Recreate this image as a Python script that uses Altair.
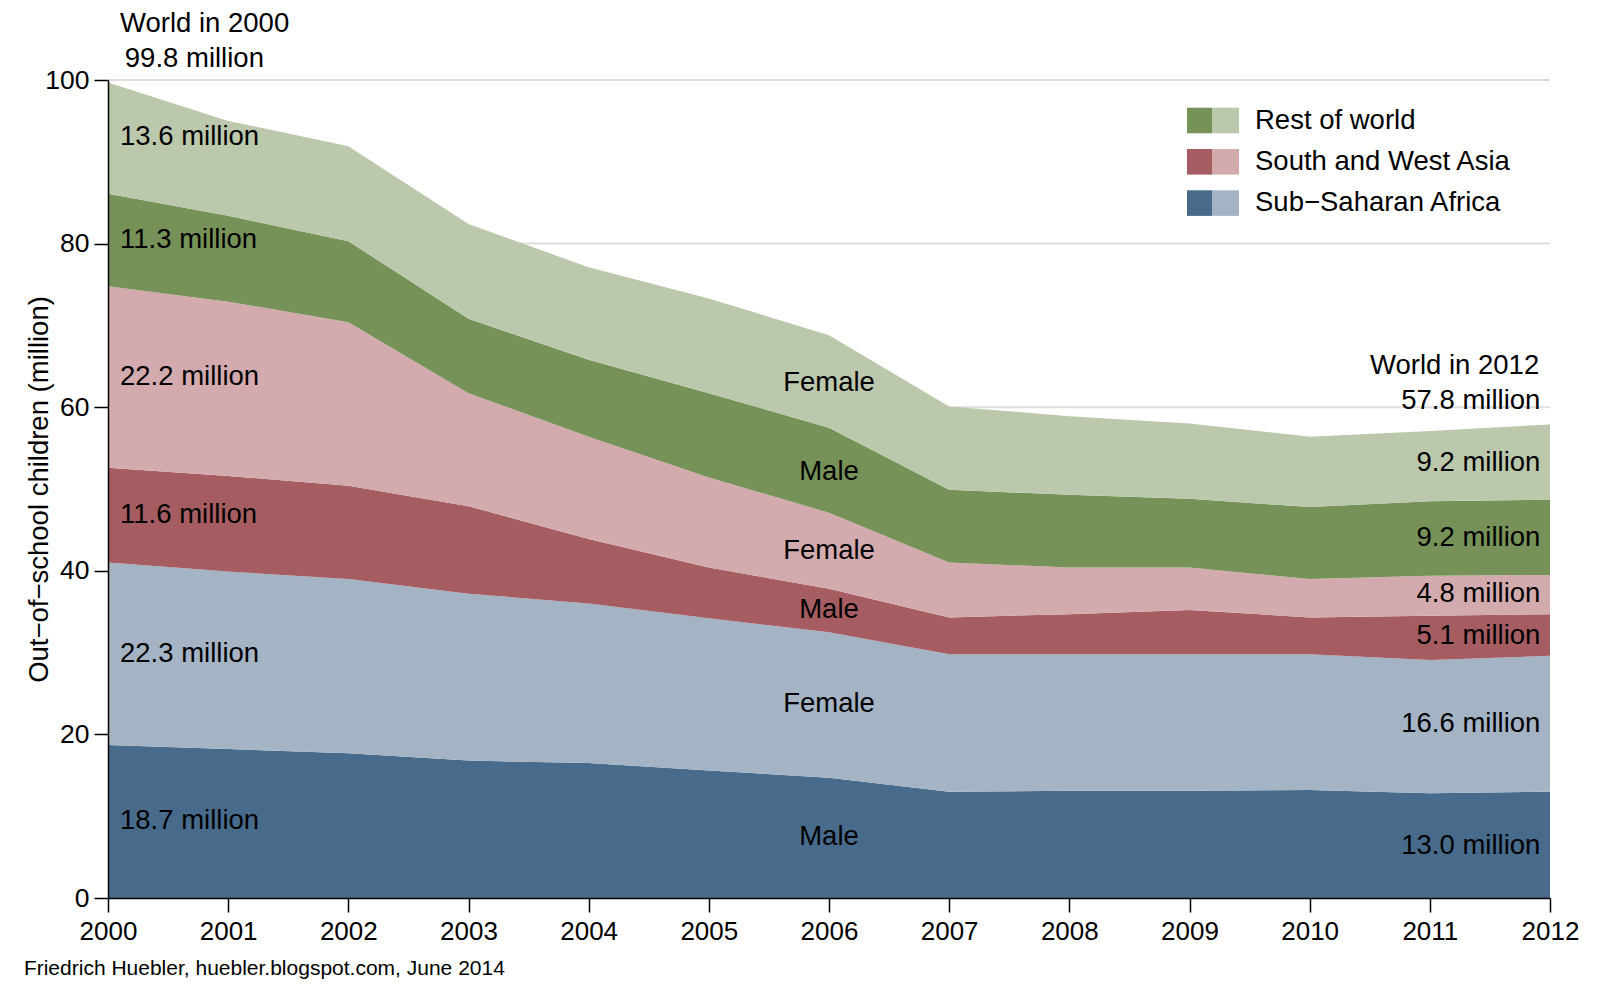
import altair as alt
import pandas as pd

years = list(range(2000, 2013))

# out-of-school children, million, one array per stacked layer (bottom to top)
ssa_male = [18.7, 18.2, 17.7, 16.8, 16.5, 15.6, 14.7, 13.0, 13.1, 13.1, 13.2, 12.8, 13.0]
ssa_female = [22.3, 21.7, 21.3, 20.4, 19.5, 18.6, 17.8, 16.8, 16.7, 16.7, 16.6, 16.3, 16.6]
swa_male = [11.6, 11.7, 11.4, 10.7, 7.9, 6.2, 5.3, 4.5, 4.9, 5.4, 4.5, 5.4, 5.1]
swa_female = [22.2, 21.3, 20.0, 13.8, 12.5, 11.0, 9.3, 6.7, 5.7, 5.2, 4.7, 4.9, 4.8]
row_male = [11.3, 10.5, 9.9, 9.1, 9.4, 10.3, 10.4, 8.9, 8.9, 8.4, 8.8, 9.1, 9.2]
row_female = [13.6, 11.6, 11.6, 11.6, 11.3, 11.6, 11.3, 10.2, 9.6, 9.2, 8.6, 8.6, 9.2]

series_names = ["SSA male", "SSA female", "SWA male", "SWA female", "ROW male", "ROW female"]
series_values = [ssa_male, ssa_female, swa_male, swa_female, row_male, row_female]
series_colors = ["#486b8c", "#a4b4c4", "#a55d61", "#d3abaf", "#779258", "#bcc8ab"]

legend_labels = ["Rest of world", "South and West Asia", "Sub\u2212Saharan Africa"]
legend_dark = ["#779258", "#a55d61", "#486b8c"]
legend_light = ["#bcc8ab", "#d3abaf", "#a4b4c4"]

y_ticks = [0, 20, 40, 60, 80, 100]

# value labels: start of series (2000), middle (2006) and end of series (2012)
left_labels = ["13.6 million", "11.3 million", "22.2 million", "11.6 million", "22.3 million", "18.7 million"]
left_label_y = [93.0, 80.4, 63.7, 46.8, 29.8, 9.4]
mid_labels = ["Female", "Male", "Female", "Male", "Female", "Male"]
mid_label_y = [63.0, 52.1, 42.4, 35.2, 23.7, 7.4]
right_labels = ["9.2 million", "9.2 million", "4.8 million", "5.1 million", "16.6 million", "13.0 million"]
right_label_y = [53.2, 44.0, 37.2, 32.0, 21.3, 6.4]

FONT = "Liberation Sans"
FS = 27.5
W, H = 1442, 818

rows = []
for i, (name, vals) in enumerate(zip(series_names, series_values)):
    for yr, v in zip(years, vals):
        rows.append({"year": yr, "series": name, "value": v, "order": i})
df = pd.DataFrame(rows)

x_scale = alt.Scale(domain=[2000, 2012], nice=False, zero=False)
y_scale = alt.Scale(domain=[0, 100], nice=False)

grid = alt.Chart(pd.DataFrame({"y": y_ticks[1:]})).mark_rule(
    color="#dddddd", strokeWidth=2
).encode(y=alt.Y("y:Q", scale=y_scale))

areas = alt.Chart(df).mark_area(interpolate="linear").encode(
    x=alt.X("year:Q", scale=x_scale,
            axis=alt.Axis(values=years, format="d", title=None, grid=False,
                          labelFontSize=26, labelFont=FONT, labelColor="black",
                          tickSize=14, tickColor="black", tickWidth=1.5,
                          domainColor="black", domainWidth=1.5, labelPadding=6,
                          labelFlush=False, zindex=1)),
    y=alt.Y("value:Q", stack="zero", scale=y_scale,
            axis=alt.Axis(values=y_ticks, title="Out\u2212of\u2212school children (million)",
                          grid=False, labelFontSize=26.5, labelFont=FONT, labelColor="black",
                          tickSize=14, tickColor="black", tickWidth=1.5,
                          domainColor="black", domainWidth=1.5, labelPadding=5,
                          titleFont=FONT, titleFontSize=FS, titleFontWeight="normal",
                          titleColor="black", titleX=-55, titleY=H / 2,
                          titleAngle=-90, titleBaseline="bottom", zindex=1)),
    color=alt.Color("series:N", scale=alt.Scale(domain=series_names, range=series_colors), legend=None),
    order=alt.Order("order:Q"),
)


def text_layer(frame, align):
    return alt.Chart(frame).mark_text(
        align=align, baseline="middle", font=FONT, fontSize=FS, color="black"
    ).encode(
        x=alt.X("x:Q", scale=x_scale),
        y=alt.Y("y:Q", scale=y_scale),
        text="label:N",
    )


left_df = pd.DataFrame({"x": 2000.1, "y": left_label_y, "label": left_labels})
left_df = pd.concat([left_df, pd.DataFrame({
    "x": [2000.1, 2000.14], "y": [106.8, 102.6], "label": ["World in 2000", "99.8 million"]})])
mid_df = pd.DataFrame({"x": 2006, "y": mid_label_y, "label": mid_labels})
right_df = pd.DataFrame({"x": 2011.92, "y": right_label_y, "label": right_labels})
right_df = pd.concat([right_df, pd.DataFrame({
    "x": [2011.91, 2011.92], "y": [65.0, 60.8], "label": ["World in 2012", "57.8 million"]})])

credit = alt.Chart(pd.DataFrame({"x": [1999.3], "y": [-8.7],
                                 "label": ["Friedrich Huebler, huebler.blogspot.com, June 2014"]})).mark_text(
    align="left", baseline="middle", font=FONT, fontSize=21, color="black"
).encode(x=alt.X("x:Q", scale=x_scale), y=alt.Y("y:Q", scale=y_scale), text="label:N")

# legend: dark + light swatch per region, in pixel space of the plot area
leg = pd.DataFrame({"label": legend_labels, "dark": legend_dark, "light": legend_light})
leg["yc"] = [40.5 + 41.3 * i for i in range(len(leg))]
leg["y0"] = leg["yc"] - 12.8
leg["y1"] = leg["yc"] + 12.8
leg["xd0"], leg["xd1"], leg["xl1"], leg["xt"] = 1079, 1104, 1131, 1147

leg_base = alt.Chart(leg)
leg_dark = leg_base.mark_rect().encode(
    x=alt.X("xd0:Q", scale=None), x2="xd1:Q",
    y=alt.Y("y0:Q", scale=None), y2="y1:Q",
    color=alt.Color("dark:N", scale=None))
leg_light = leg_base.mark_rect().encode(
    x=alt.X("xd1:Q", scale=None), x2="xl1:Q",
    y=alt.Y("y0:Q", scale=None), y2="y1:Q",
    color=alt.Color("light:N", scale=None))
leg_text = leg_base.mark_text(align="left", baseline="middle", font=FONT, fontSize=FS, color="black").encode(
    x=alt.X("xt:Q", scale=None), y=alt.Y("yc:Q", scale=None), text="label:N")

chart = alt.layer(
    grid, areas, text_layer(left_df, "left"), text_layer(mid_df, "center"),
    text_layer(right_df, "right"), credit, leg_dark, leg_light, leg_text
).properties(
    width=W, height=H,
    autosize=alt.AutoSizeParams(type="none"),
    padding={"left": 100, "top": 72, "right": 40, "bottom": 90},
    background="white",
).configure_view(stroke=None)

chart.save("out.html", embed_options={"renderer": "svg", "actions": False})
